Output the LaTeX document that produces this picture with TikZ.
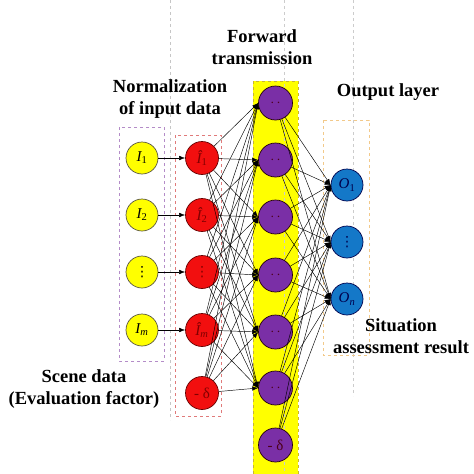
\documentclass[tikz,border=0pt]{standalone}
\usepackage{fontspec}
\setmainfont{Liberation Serif}
\newfontfamily\dejavu{DejaVu Sans}
\usetikzlibrary{arrows.meta,backgrounds}
\definecolor{cyel}{HTML}{FFFF00}
\definecolor{cred}{HTML}{F20F0F}
\definecolor{cpur}{HTML}{7A2FA6}
\definecolor{cblu}{HTML}{1478C8}
\definecolor{bpur}{HTML}{B48CC8}
\definecolor{bred}{HTML}{E07A7A}
\definecolor{bora}{HTML}{F2C98A}
\definecolor{bcol}{HTML}{C8B432}
\tikzset{
  neuron/.style={circle,inner sep=0pt,font=\fontsize{15}{16}\selectfont},
  inneur/.style={neuron,minimum size=32pt,fill=cyel,draw=black!75!yellow,line width=0.7pt},
  rneur/.style={neuron,minimum size=33pt,fill=cred,draw=red!40!black,line width=0.7pt,text=red!50!black},
  pneur/.style={neuron,minimum size=34pt,fill=cpur,draw=black!80!purple,line width=0.7pt,text=black!60!purple},
  oneur/.style={neuron,minimum size=32pt,fill=cblu,draw=blue!30!black,line width=0.7pt,text=blue!30!black},
  conn/.style={black,line width=0.45pt,-{Latex[length=6pt,width=4.5pt]}},
  ttl/.style={font=\fontsize{18.5}{22}\selectfont\bfseries,align=center},
  grid line/.style={gray!45,dashed,line width=0.6pt},
  layerbox/.style={dashed,line width=0.7pt}
}
\newcommand{\sub}[2]{{\itshape #1\textsubscript{#2}}}
\newcommand{\vdts}{{\dejavu\fontsize{14}{14}\selectfont ⋮}}
\begin{document}
\begin{tikzpicture}[x=1pt,y=-1pt]
\useasboundingbox (0,0) rectangle (474,474);
% boxes
\fill[cyel] (253,81) rectangle (298,474);
% grey guide lines
\draw[grid line] (170,0) -- (170,420);
\draw[grid line,gray!40] (284,0) -- (284,474);
\draw[grid line,gray!40] (353,0) -- (353,396);
\draw[layerbox,draw=bcol] (253,474) -- (253,81) -- (298,81) -- (298,474);
\draw[layerbox,draw=bpur] (119,127) rectangle (164,361);
\draw[layerbox,draw=bred] (175,135) rectangle (221,416);
\draw[layerbox,draw=bora] (323,120) rectangle (369,355);
% input nodes
\node[inneur] (i1) at (142,158) {\sub{I}{\upshape 1}};
\node[inneur] (i2) at (142,215) {\sub{I}{\upshape 2}};
\node[inneur] (i3) at (142,272) {\vdts};
\node[inneur] (i4) at (142,330) {\sub{I}{m}};
% normalized nodes
\node[rneur] (r1) at (202,158) {\sub{\^I}{\upshape 1}};
\node[rneur] (r2) at (202,215) {\sub{\^I}{\upshape 2}};
\node[rneur] (r3) at (202,272) {\vdts};
\node[rneur] (r4) at (202,330) {\sub{\^I}{m}};
\node[rneur] (r5) at (202,393) {- δ};
% hidden nodes
\foreach \k/\y in {1/103,2/160,3/217,4/275,5/332,6/388}
  \node[pneur] (p\k) at (275.5,\y) {$\cdot\,\cdot$};
\node[pneur] (p7) at (275.5,445) {- δ};
% output nodes
\node[oneur] (o1) at (347,185) {\sub{O}{\upshape 1}};
\node[oneur] (o2) at (347,242) {\vdts};
\node[oneur] (o3) at (347,299) {\sub{O}{n}};
% connectors
\foreach \k in {1,...,4} \draw[conn] (i\k) -- (r\k);
\foreach \a in {1,...,5} \foreach \b in {1,...,6} \draw[conn] (r\a) -- (p\b.west);
\foreach \a in {1,...,7} \foreach \b in {1,2,3} \draw[conn] (p\a) -- (o\b.west);
% titles
\node[ttl] (t1) at (262,47) {Forward\\transmission};
\node[ttl] (t2) at (170,99) {Normalization\\of input data};
\node[ttl] (t3) at (388,92) {Output layer};
\node[ttl] (t4) at (401,336) {Situation\\assessment result};
\node[ttl] (t5) at (84,389) {Scene data\\(Evaluation factor)};
\end{tikzpicture}
\end{document}
